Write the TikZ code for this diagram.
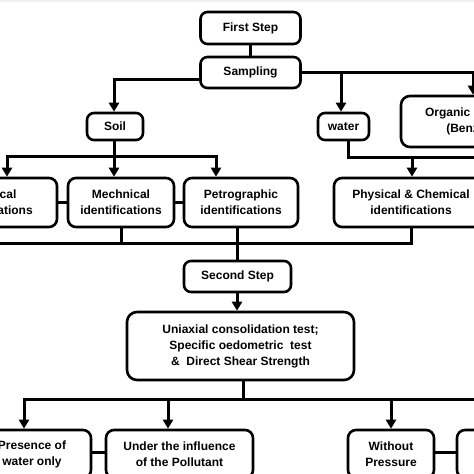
\documentclass[tikz,border=0pt]{standalone}
\usepackage{fontspec}
\setmainfont{Liberation Sans}
\usetikzlibrary{arrows.meta}
\tikzset{
  box/.style={draw, line width=2.6pt, rounded corners=7pt, inner sep=0pt, align=center,
    font=\bfseries\fontsize{12}{16}\selectfont},
  conn/.style={line width=3pt},
  arr/.style={line width=3pt, -{Triangle[width=10pt,length=9pt]}},
}
\begin{document}
\begin{tikzpicture}[x=1pt,y=-1pt]
\useasboundingbox (0,0) rectangle (474,474);
\clip (0,0) rectangle (474,474);
\fill[gray!12] (0,0) rectangle (474,1.5);

% boxes
\node[box, minimum width=100pt, minimum height=32pt] (first) at (250.5,28) {First Step};
\node[box, minimum width=100pt, minimum height=31pt] (sampling) at (250.5,72.5) {Sampling};
\node[box, minimum width=56pt, minimum height=27pt] (soil) at (115,126.5) {Soil};
\node[box, minimum width=51pt, minimum height=27pt] (water) at (343.5,126.5) {water};
\node[box, minimum width=148pt, minimum height=51pt, rounded corners=9pt] (organic) at (475,121.5) {Organic Pollutant\\(Benzene)};

\node[box, minimum width=130pt, minimum height=49pt, rounded corners=8pt] (phys) at (-8,202.5) {Physical\\identifications};
\node[box, minimum width=106pt, minimum height=49pt, rounded corners=8pt] (mech) at (121,202.5) {Mechnical\\identifications};
\node[box, minimum width=114pt, minimum height=49pt, rounded corners=8pt] (petro) at (241,202.5) {Petrographic\\identifications};
\node[box, minimum width=154pt, minimum height=49pt, rounded corners=8pt] (pc) at (411,202.5) {Physical \& Chemical\\identifications};

\node[box, minimum width=107pt, minimum height=31pt] (second) at (237.5,276.5) {Second Step};
\node[box, minimum width=227pt, minimum height=68pt, rounded corners=10pt] (uni) at (240.5,346)
  {Uniaxial consolidation test;\\Specific oedometric\ \ test\\\&\ \ Direct Shear Strength};

\node[box, minimum width=118pt, minimum height=48pt, rounded corners=8pt] (pres) at (32,454) {Presence of\\water only};
\node[box, minimum width=147pt, minimum height=48pt, rounded corners=8pt] (under) at (179.5,454) {Under the influence\\of the Pollutant};
\node[box, minimum width=86pt, minimum height=48pt, rounded corners=8pt] (without) at (391,454) {Without\\Pressure};
\node[box, minimum width=110pt, minimum height=48pt, rounded corners=8pt] (withp) at (512,454) {};

% coordinates
\coordinate (sl) at (114,79);
\coordinate (sr) at (341,72);
\coordinate (sr2) at (473,72);
\coordinate (srEnd) at (530,72);
\coordinate (sb) at (114,156);
\coordinate (c7) at (7,156);
\coordinate (c216) at (216,156);
\coordinate (wb) at (348,157);
\coordinate (pcA) at (412,157);
\coordinate (wEnd) at (530,157);
\coordinate (b2) at (237,243);
\coordinate (ub) at (243,399);
\coordinate (u24) at (24,399);
\coordinate (u168) at (168,399);
\coordinate (uEnd) at (530,399);
\coordinate (r2) at (0,202);
\coordinate (r4) at (0,452);

% connectors
\draw[conn] (first.south) -- (sampling.north);
\draw[arr] (sampling.west |- sl) -| (soil.north -| sl);
\draw[conn] (sampling.east |- sr) -- (srEnd);
\draw[arr] (sr) -- (water.north -| sr);
\draw[arr] (sr2) -- (organic.north -| sr2);

\draw[conn] (soil.south -| sb) -- (sb);
\draw[arr] (sb) -| (phys.north -| c7);
\draw[arr] (sb) -| (petro.north -| c216);
\draw[arr] (sb) -- (mech.north -| sb);

\draw[conn] (water.south -| wb) |- (wEnd);
\draw[conn] (organic.south) -- (organic.south |- wb);
\draw[arr] (pcA) -- (pc.north -| pcA);

\draw[conn] (phys.east |- r2) -- (mech.west |- r2);
\draw[conn] (mech.east |- r2) -- (petro.west |- r2);

\draw[conn] (phys.south) |- (pc.south |- b2) -- (pc.south);
\draw[conn] (mech.south) -- (mech.south |- b2);
\draw[conn] (petro.south -| b2) -- (second.north -| b2);
\draw[arr] (second.south -| b2) -- (uni.north -| b2);

\draw[conn] (uni.south -| ub) -- (ub);
\draw[arr] (uEnd) -| (pres.north -| u24);
\draw[arr] (u168) -- (under.north -| u168);
\draw[arr] (without.north |- ub) -- (without.north);

\draw[conn] (pres.east |- r4) -- (under.west |- r4);
\draw[conn] (without.east |- r4) -- (withp.west |- r4);
\end{tikzpicture}
\end{document}
